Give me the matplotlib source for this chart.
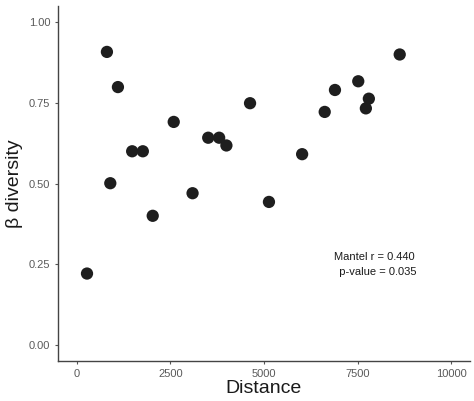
import matplotlib
matplotlib.use('Agg')
import matplotlib.pyplot as plt

plt.rcParams['font.family'] = ['Liberation Sans', 'DejaVu Sans']

# distance vs beta diversity
distance = [806, 1100, 896, 1480, 1765, 2029, 274, 2590, 3093, 3511, 3803, 3997,
            4628, 5133, 6019, 6622, 6896, 7518, 7801, 7721, 8625]
beta = [0.908, 0.799, 0.501, 0.600, 0.600, 0.400, 0.221, 0.691, 0.470, 0.642, 0.642, 0.618,
        0.749, 0.443, 0.591, 0.722, 0.790, 0.817, 0.763, 0.733, 0.900]

xticks = [0, 2500, 5000, 7500, 10000]
yticks = [0.00, 0.25, 0.50, 0.75, 1.00]
ytick_labels = ['0.00', '0.25', '0.50', '0.75', '1.00']

fig = plt.figure(figsize=(4.74, 4.01), dpi=100)
ax = fig.add_axes([0.1224, 0.0998, 0.869, 0.885])

ax.scatter(distance, beta, s=78, color='#1e1e1e', edgecolors='none', zorder=3)

ax.set_xlim(-500, 10500)
ax.set_ylim(-0.05, 1.05)
ax.set_xticks(xticks)
ax.set_xticklabels([str(t) for t in xticks])
ax.set_yticks(yticks)
ax.set_yticklabels(ytick_labels)

for side in ['top', 'right']:
    ax.spines[side].set_visible(False)
for side in ['left', 'bottom']:
    ax.spines[side].set_color('#444444')
    ax.spines[side].set_linewidth(1.0)

ax.tick_params(axis='both', colors='#555555', labelsize=8, length=2.5, width=0.8, pad=3)
ax.tick_params(axis='both', labelcolor='#5a5a5a')

ax.set_xlabel('Distance', fontsize=14, color='#1a1a1a', labelpad=1)
ax.set_ylabel('β diversity', fontsize=14, color='#1a1a1a', labelpad=4)

ax.text(7950, 0.25, 'Mantel r = 0.440\n  p-value = 0.035', fontsize=8, color='#1a1a1a',
        ha='center', va='center', linespacing=1.6)

fig.savefig('out.png', dpi=100)
